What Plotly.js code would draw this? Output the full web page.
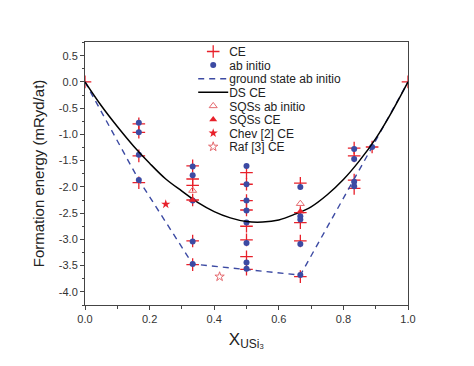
<!DOCTYPE html>
<html>
<head>
<meta charset="utf-8">
<script src="https://cdn.plot.ly/plotly-3.0.1.min.js"></script>
<style>html,body{margin:0;padding:0;background:#fff;}#chart{width:474px;height:366px;}</style>
</head>
<body>
<div id="chart"></div>
<script>
// ---- data ----
const ceX = [0,
  0.1667, 0.1667, 0.1667, 0.1667,
  0.3333, 0.3333, 0.3333, 0.3333, 0.3333, 0.3333,
  0.5, 0.5, 0.5, 0.5, 0.5, 0.5, 0.5, 0.5,
  0.6667, 0.6667, 0.6667, 0.6667, 0.6667,
  0.8333, 0.8333, 0.8333, 0.8333,
  0.8889, 1];
const ceY = [0,
  -0.80, -0.96, -1.41, -1.92,
  -1.60, -1.85, -1.97, -2.25, -3.03, -3.48,
  -1.73, -1.95, -2.26, -2.44, -2.75, -3.01, -3.33, -3.57,
  -1.93, -2.49, -2.68, -3.03, -3.71,
  -1.26, -1.41, -1.87, -2.03,
  -1.24, 0];

const aiX = [
  0.1667, 0.1667, 0.1667, 0.1667,
  0.3333, 0.3333, 0.3333, 0.3333, 0.3333,
  0.5, 0.5, 0.5, 0.5, 0.5, 0.5, 0.5, 0.5,
  0.6667, 0.6667, 0.6667, 0.6667, 0.6667,
  0.8333, 0.8333, 0.8333, 0.8333,
  0.8889];
const aiY = [
  -0.78, -0.96, -1.39, -1.87,
  -1.61, -1.78, -2.26, -3.04, -3.47,
  -1.60, -1.95, -2.26, -2.45, -2.68, -3.07, -3.44, -3.56,
  -2.00, -2.56, -2.62, -3.09, -3.68,
  -1.28, -1.47, -1.90, -1.99,
  -1.24];

const gsX = [0, 0.1667, 0.3333, 0.6667, 0.8889, 1];
const gsY = [0, -1.87, -3.47, -3.68, -1.24, 0];

const dsX = [0, 0.05, 0.1, 0.15, 0.2, 0.25, 0.3, 0.35, 0.4, 0.45, 0.5, 0.55, 0.6, 0.65, 0.7, 0.75, 0.8, 0.85, 0.9, 0.95, 1.0];
const dsY = [0, -0.45, -0.85, -1.22, -1.55, -1.85, -2.08, -2.30, -2.47, -2.59, -2.66, -2.67, -2.63, -2.52, -2.38, -2.15, -1.86, -1.50, -1.08, -0.57, 0];

const sqsAiX = [0.3333, 0.6667];
const sqsAiY = [-2.07, -2.32];
const sqsCeX = [0.3333, 0.6667];
const sqsCeY = [-2.25, -2.47];
const chevX = [0.25];
const chevY = [-2.33];
const rafX = [0.4167];
const rafY = [-3.71];

const seriesNames = ['CE', 'ab initio', 'ground state ab initio', 'DS CE', 'SQSs ab initio', 'SQSs CE', 'Chev [2] CE', 'Raf [3] CE'];

const xTickVals = [0, 0.2, 0.4, 0.6, 0.8, 1.0];
const xTickText = ['0.0', '0.2', '0.4', '0.6', '0.8', '1.0'];
const yTickVals = [0.5, 0, -0.5, -1.0, -1.5, -2.0, -2.5, -3.0, -3.5, -4.0];
const yTickText = ['0.5', '0.0', '-0.5', '-1.0', '-1.5', '-2.0', '-2.5', '-3.0', '-3.5', '-4.0'];

// ---- styling ----
const RED = '#e8202a';
const BLUE = '#3c4aa3';
const PINK = '#e46a6f';
const FONT = 'Arial, "Liberation Sans", sans-serif';

const traces = [
  {x: ceX, y: ceY, name: seriesNames[0], mode: 'markers', type: 'scatter',
   marker: {symbol: 'cross-thin', size: 9, color: RED, line: {color: RED, width: 1.3}}},
  {x: aiX, y: aiY, name: seriesNames[1], mode: 'markers', type: 'scatter',
   marker: {symbol: 'circle', size: 6, color: BLUE}},
  {x: gsX, y: gsY, name: seriesNames[2], mode: 'lines', type: 'scatter',
   line: {color: BLUE, width: 1.4, dash: '6px,5px'}},
  {x: dsX, y: dsY, name: seriesNames[3], mode: 'lines', type: 'scatter',
   line: {color: '#000', width: 1.5, shape: 'spline'}},
  {x: sqsAiX, y: sqsAiY, name: seriesNames[4], mode: 'markers', type: 'scatter',
   marker: {symbol: 'triangle-up-open', size: 7, color: PINK, line: {width: 1}}},
  {x: sqsCeX, y: sqsCeY, name: seriesNames[5], mode: 'markers', type: 'scatter',
   marker: {symbol: 'triangle-up', size: 7, color: RED}},
  {x: chevX, y: chevY, name: seriesNames[6], mode: 'markers', type: 'scatter',
   marker: {symbol: 'star', size: 7, color: RED}},
  {x: rafX, y: rafY, name: seriesNames[7], mode: 'markers', type: 'scatter',
   marker: {symbol: 'star-open', size: 7, color: PINK, line: {width: 1}}}
];

const layout = {
  width: 474, height: 366,
  margin: {l: 85, r: 66, t: 42, b: 61},
  paper_bgcolor: '#fff', plot_bgcolor: '#fff',
  font: {family: FONT, size: 11, color: '#333'},
  showlegend: true,
  legend: {x: 0.335, y: 1.019, xanchor: 'left', yanchor: 'top', bgcolor: 'rgba(0,0,0,0)',
           borderwidth: 0, font: {family: FONT, size: 12, color: '#222'}, tracegroupgap: 0},
  xaxis: {range: [0, 1], tickvals: xTickVals, ticktext: xTickText, ticks: 'outside', ticklen: 4,
          tickcolor: '#444', showline: true, linecolor: '#444', linewidth: 1, mirror: true,
          showgrid: false, zeroline: false,
          minor: {dtick: 0.1, ticks: 'outside', ticklen: 2.5, tickcolor: '#444', showgrid: false},
          tickfont: {size: 11, color: '#333'},
          title: {text: 'X<sub>USi₃</sub>', font: {size: 17, color: '#222'}, standoff: 8}},
  yaxis: {range: [-4.25, 0.76], tickvals: yTickVals, ticktext: yTickText, ticks: 'outside', ticklen: 4,
          tickcolor: '#444', showline: true, linecolor: '#444', linewidth: 1, mirror: true,
          showgrid: false, zeroline: false,
          minor: {dtick: 0.25, ticks: 'outside', ticklen: 2.5, tickcolor: '#444', showgrid: false},
          tickfont: {size: 11, color: '#333'},
          title: {text: 'Formation energy (mRyd/at)', font: {size: 15, color: '#222'}, standoff: 10}}
};

Plotly.newPlot('chart', traces, layout, {displayModeBar: false, staticPlot: true}).then(function () {
  // compress legend item spacing and symbol-text gap to match the reference
  const items = document.querySelectorAll('.legend .traces');
  let y0 = null;
  items.forEach(function (g, i) {
    const t = g.getAttribute('transform') || '';
    const m = t.match(/translate\(([-\d.]+)[ ,]+([-\d.]+)\)/);
    if (!m) return;
    if (y0 === null) y0 = parseFloat(m[2]);
    g.setAttribute('transform', 'translate(' + m[1] + ',' + (y0 + i * 13.6) + ')');
    const txt = g.querySelector('.legendtext');
    if (txt) txt.setAttribute('x', 36);
  });
});
</script>
</body>
</html>
